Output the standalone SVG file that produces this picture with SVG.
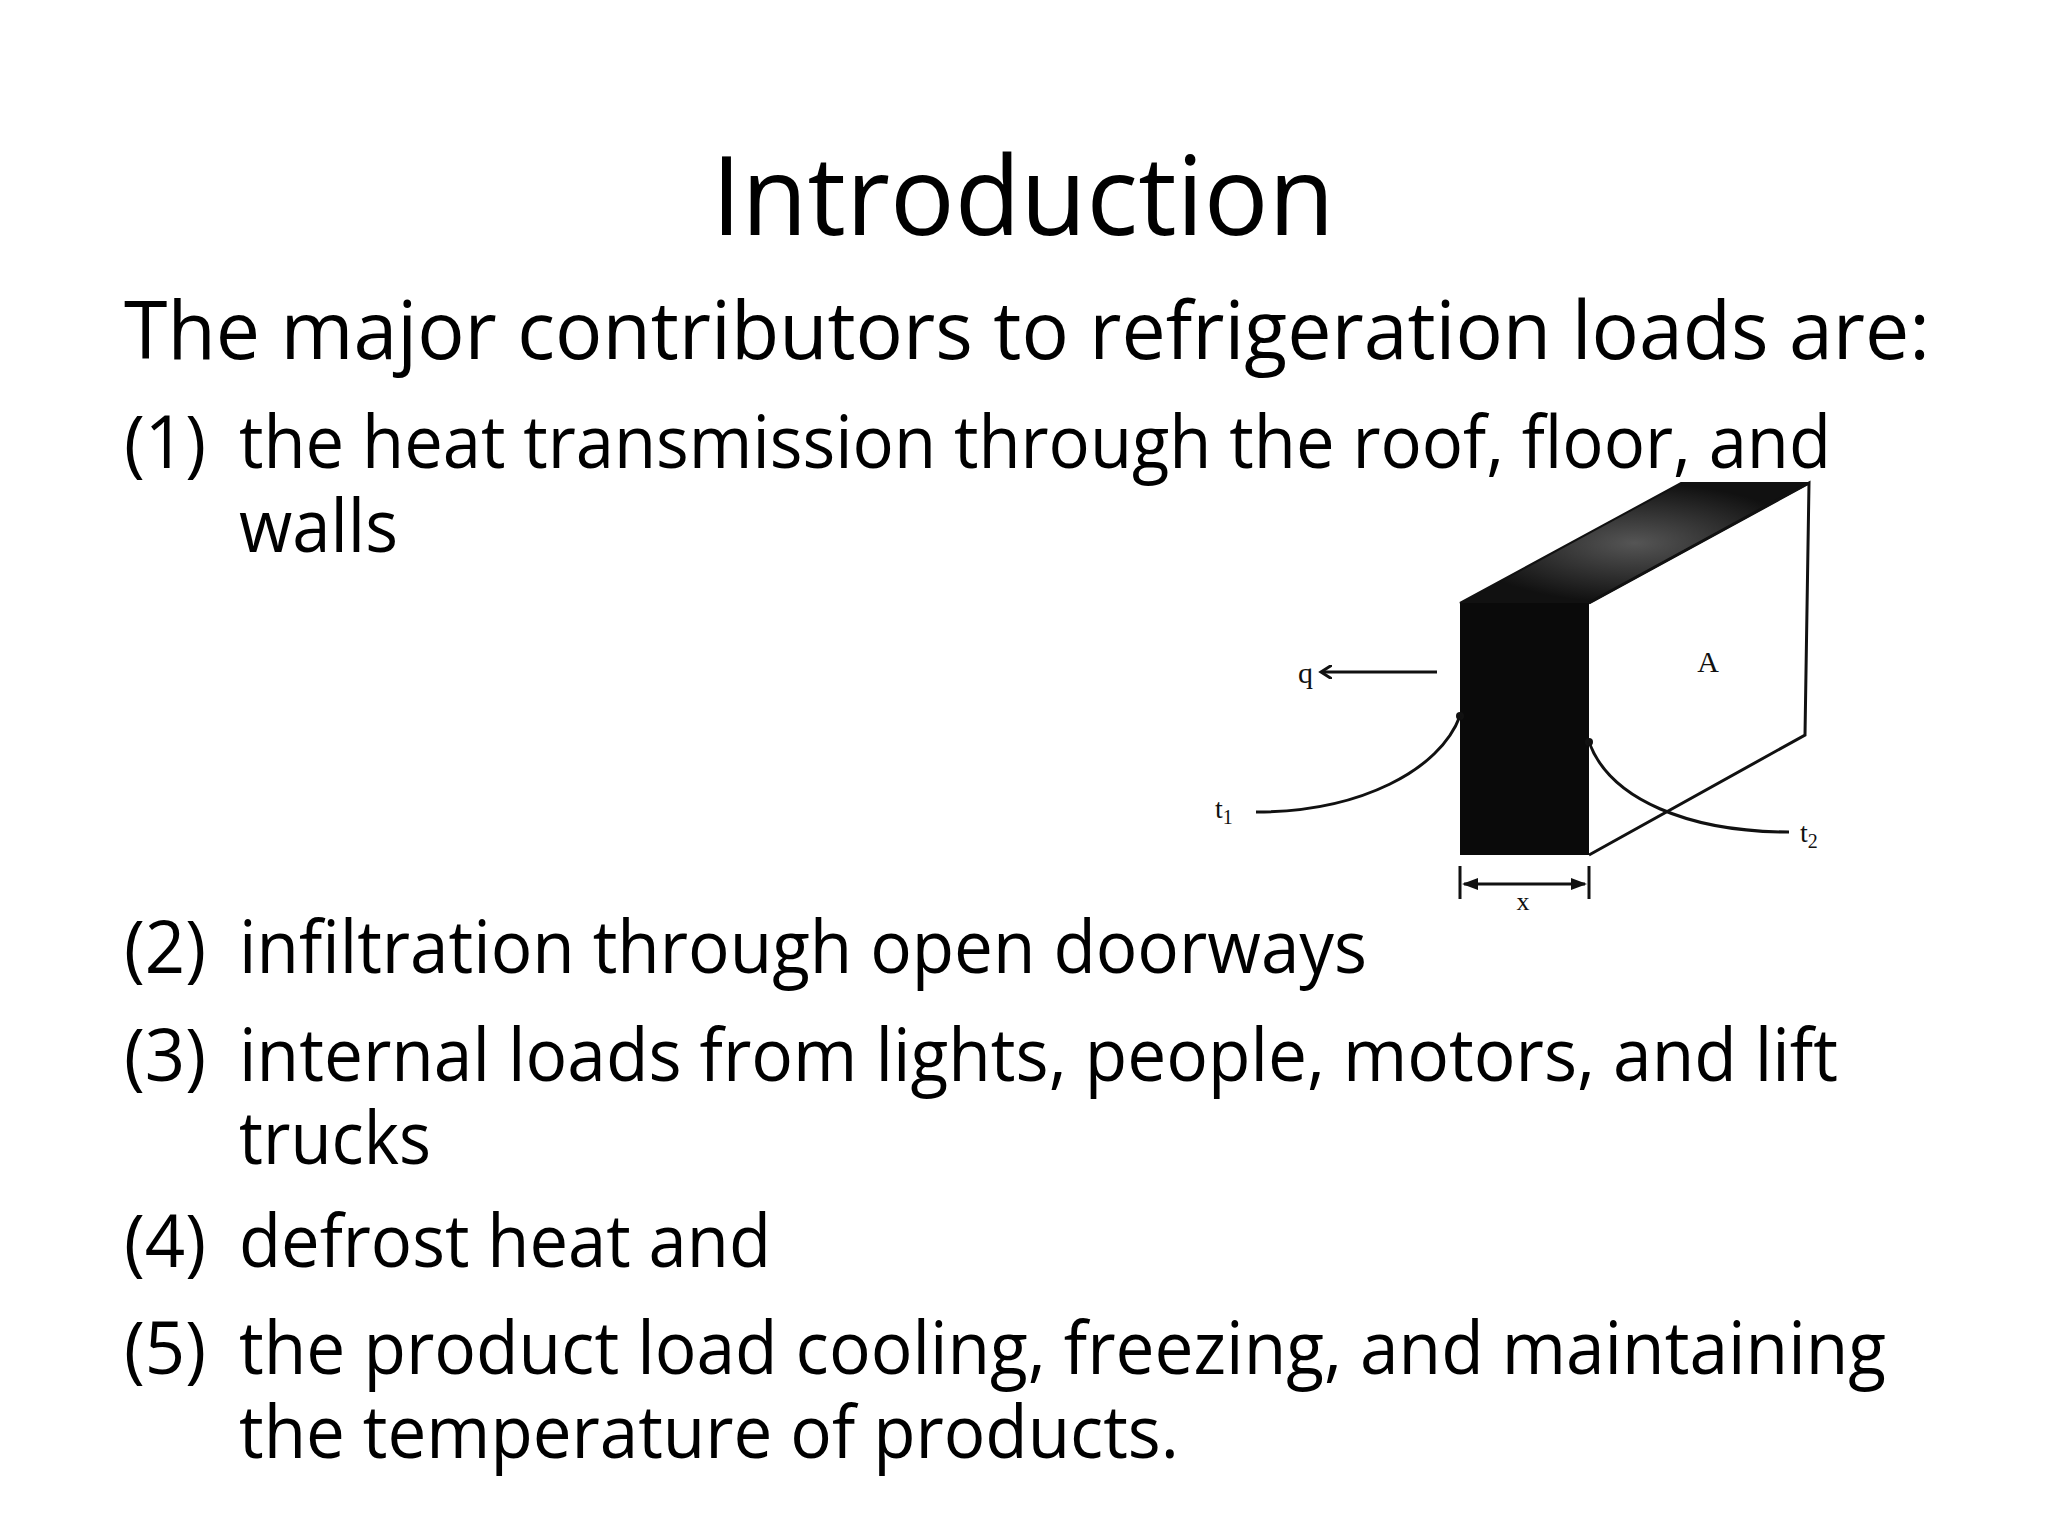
<svg xmlns="http://www.w3.org/2000/svg" width="2048" height="1536" viewBox="0 0 2048 1536">
<defs>
<style>
.t{font-family:"Open Sans","Liberation Sans",sans-serif;fill:#000}
.b{font-size:74px}
.f{font-family:"Liberation Serif",serif;fill:#111}
.ln{stroke:#111;stroke-width:3;fill:none}
</style>
<marker id="ah" markerWidth="14" markerHeight="14" refX="10" refY="7" orient="auto" markerUnits="userSpaceOnUse"><path d="M0,0 L11,7 L0,14" fill="none" stroke="#111" stroke-width="3"/></marker>
<radialGradient id="tg"><stop offset="0" stop-color="#555"/><stop offset="1" stop-color="#111"/></radialGradient>
</defs>
<rect width="2048" height="1536" fill="#fff"/>
<g id="text">
<text class="t" x="1023" y="235" font-size="110" text-anchor="middle" textLength="623" lengthAdjust="spacingAndGlyphs">Introduction</text>
<text class="t" x="124" y="359" font-size="80" textLength="1806" lengthAdjust="spacingAndGlyphs">The major contributors to refrigeration loads are:</text>
<text class="t b" x="124" y="468" textLength="82" lengthAdjust="spacingAndGlyphs">(1)</text>
<text class="t b" x="239" y="468" textLength="1592" lengthAdjust="spacingAndGlyphs">the heat transmission through the roof, floor, and</text>
<text class="t b" x="239" y="552" textLength="159" lengthAdjust="spacingAndGlyphs">walls</text>
<text class="t b" x="124" y="973" textLength="82" lengthAdjust="spacingAndGlyphs">(2)</text>
<text class="t b" x="239" y="973" textLength="1128" lengthAdjust="spacingAndGlyphs">infiltration through open doorways</text>
<text class="t b" x="124" y="1081" textLength="82" lengthAdjust="spacingAndGlyphs">(3)</text>
<text class="t b" x="239" y="1081" textLength="1599" lengthAdjust="spacingAndGlyphs">internal loads from lights, people, motors, and lift</text>
<text class="t b" x="239" y="1164" textLength="192" lengthAdjust="spacingAndGlyphs">trucks</text>
<text class="t b" x="124" y="1267" textLength="82" lengthAdjust="spacingAndGlyphs">(4)</text>
<text class="t b" x="239" y="1267" textLength="532" lengthAdjust="spacingAndGlyphs">defrost heat and</text>
<text class="t b" x="124" y="1374" textLength="82" lengthAdjust="spacingAndGlyphs">(5)</text>
<text class="t b" x="239" y="1374" textLength="1647" lengthAdjust="spacingAndGlyphs">the product load cooling, freezing, and maintaining</text>
<text class="t b" x="239" y="1458" textLength="940" lengthAdjust="spacingAndGlyphs">the temperature of products.</text>
</g>
<g id="wall">
<polygon points="1460,603 1589,603 1809,483 1681,483" fill="url(#tg)" stroke="#111" stroke-width="2"/>
<rect x="1460" y="603" width="129" height="252" fill="#0a0a0a"/>
<path class="ln" d="M1589,603 L1809,483 L1805,735 L1589,855"/>
<text class="f" x="1708" y="672" font-size="30" text-anchor="middle">A</text>
</g>
<g id="connectors">
<line class="ln" x1="1437" y1="672" x2="1322" y2="672" stroke-width="4" marker-end="url(#ah)"/>
<text class="f" x="1298" y="683" font-size="30">q</text>
<circle cx="1460" cy="716" r="4" fill="#111"/>
<path class="ln" d="M1460,716 C1440,770 1360,812 1256,812"/>
<text class="f" x="1215" y="818" font-size="28">t<tspan font-size="20" dy="6">1</tspan></text>
<circle cx="1589" cy="742" r="4" fill="#111"/>
<path class="ln" d="M1589,742 C1610,800 1690,832 1789,832"/>
<text class="f" x="1800" y="842" font-size="28">t<tspan font-size="20" dy="6">2</tspan></text>
<line class="ln" x1="1460" y1="866" x2="1460" y2="899" stroke-width="2"/>
<line class="ln" x1="1589" y1="866" x2="1589" y2="899" stroke-width="2"/>
<line class="ln" x1="1464" y1="884" x2="1585" y2="884" stroke-width="2"/>
<path d="M1462,884 L1478,878 L1478,890 Z M1587,884 L1571,878 L1571,890 Z" fill="#111"/>
<text class="f" x="1523" y="910" font-size="26" text-anchor="middle">x</text>
</g>
</svg>
